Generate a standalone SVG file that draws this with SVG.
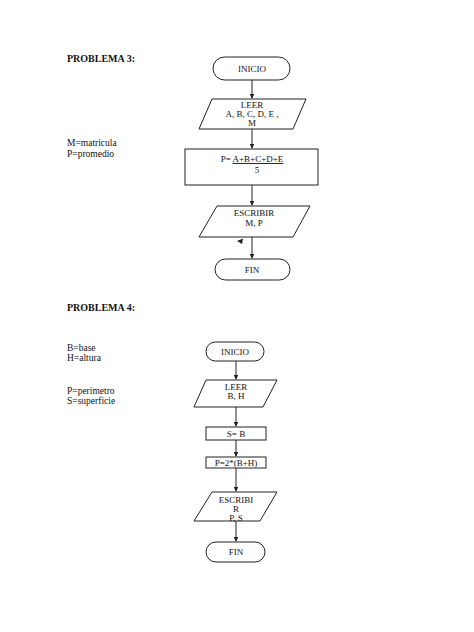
<svg xmlns="http://www.w3.org/2000/svg" width="474" height="632" viewBox="0 0 474 632">
<style>
.s{fill:#fff;stroke:#222;stroke-width:1}
.t{font-family:"Liberation Serif","Times New Roman",serif;font-size:9px;fill:#111;text-anchor:middle}
.l{font-family:"Liberation Serif","Times New Roman",serif;font-size:9.5px;fill:#111}
.h{font-family:"Liberation Serif","Times New Roman",serif;font-size:10px;font-weight:bold;fill:#111}
.c{stroke:#222;stroke-width:1;fill:none;marker-end:url(#a)}
</style>
<defs>
<marker id="a" viewBox="0 0 8 8" refX="7" refY="4" markerWidth="5" markerHeight="5" orient="auto" markerUnits="userSpaceOnUse">
<path d="M0,0 L8,4 L0,8 z" fill="#222"/>
</marker>
</defs>
<rect width="474" height="632" fill="#fff"/>
<text class="h" x="67" y="62">PROBLEMA 3:</text>
<text class="l" x="67" y="146">M=matricula</text>
<text class="l" x="67" y="157">P=promedio</text>
<text class="h" x="67" y="311">PROBLEMA 4:</text>
<text class="l" x="67" y="351">B=base</text>
<text class="l" x="67" y="361">H=altura</text>
<text class="l" x="67" y="394">P=perimetro</text>
<text class="l" x="67" y="404">S=superficie</text>

<g id="connectors">
<line class="c" x1="252" y1="80" x2="252" y2="98"/>
<line class="c" x1="252" y1="129" x2="252" y2="148"/>
<line class="c" x1="252" y1="185" x2="252" y2="205"/>
<line class="c" x1="252" y1="237" x2="252" y2="258"/>
<line class="c" x1="236" y1="361" x2="236" y2="379"/>
<line class="c" x1="236" y1="407" x2="236" y2="426"/>
<line class="c" x1="236" y1="440" x2="236" y2="456"/>
<line class="c" x1="236" y1="468" x2="236" y2="491"/>
<line class="c" x1="236" y1="516" x2="236" y2="541"/>
<path d="M237,241 L243,238.5 L242,244 z" fill="#222"/>
</g>

<g id="p3-inicio">
<rect class="s" x="213" y="57" width="77" height="23" rx="11.5"/>
<text class="t" x="252" y="72">INICIO</text>
</g>
<g id="p3-leer">
<polygon class="s" points="212,99 306,99 293,129 199,129"/>
<text class="t" x="252" y="108">LEER</text>
<text class="t" x="252" y="117">A, B, C, D, E ,</text>
<text class="t" x="252" y="126">M</text>
</g>
<g id="p3-calc">
<rect class="s" x="185" y="149" width="133" height="36"/>
<text class="t" x="252" y="162">P= <tspan text-decoration="underline">A+B+C+D+E</tspan></text>
<text class="t" x="257" y="173">5</text>
</g>
<g id="p3-escribir">
<polygon class="s" points="217,206 310,206 293,237 199,237"/>
<text class="t" x="254" y="216">ESCRIBIR</text>
<text class="t" x="254" y="226">M, P</text>
</g>
<g id="p3-fin">
<rect class="s" x="215" y="259" width="75" height="21" rx="10.5"/>
<text class="t" x="252" y="273">FIN</text>
</g>

<g id="p4-inicio">
<rect class="s" x="206" y="342" width="58" height="19" rx="9.5"/>
<text class="t" x="235" y="355">INICIO</text>
</g>
<g id="p4-leer">
<polygon class="s" points="206,380 277,380 263,407 194,407"/>
<text class="t" x="236" y="390">LEER</text>
<text class="t" x="236" y="399">B, H</text>
</g>
<g id="p4-sb">
<rect class="s" x="206" y="427" width="60" height="13"/>
<text class="t" x="236" y="437">S= B</text>
</g>
<g id="p4-p">
<rect class="s" x="206" y="457" width="60" height="11"/>
<text class="t" x="236" y="466">P=2*(B+H)</text>
</g>
<g id="p4-escribir">
<polygon class="s" points="212,492 277,492 260,521 194,521"/>
<text class="t" x="236" y="503">ESCRIBI</text>
<text class="t" x="236" y="512">R</text>
<text class="t" x="236" y="521">P, S</text>
</g>
<g id="p4-fin">
<rect class="s" x="206" y="542" width="59" height="20" rx="10"/>
<text class="t" x="236" y="555">FIN</text>
</g>
</svg>
